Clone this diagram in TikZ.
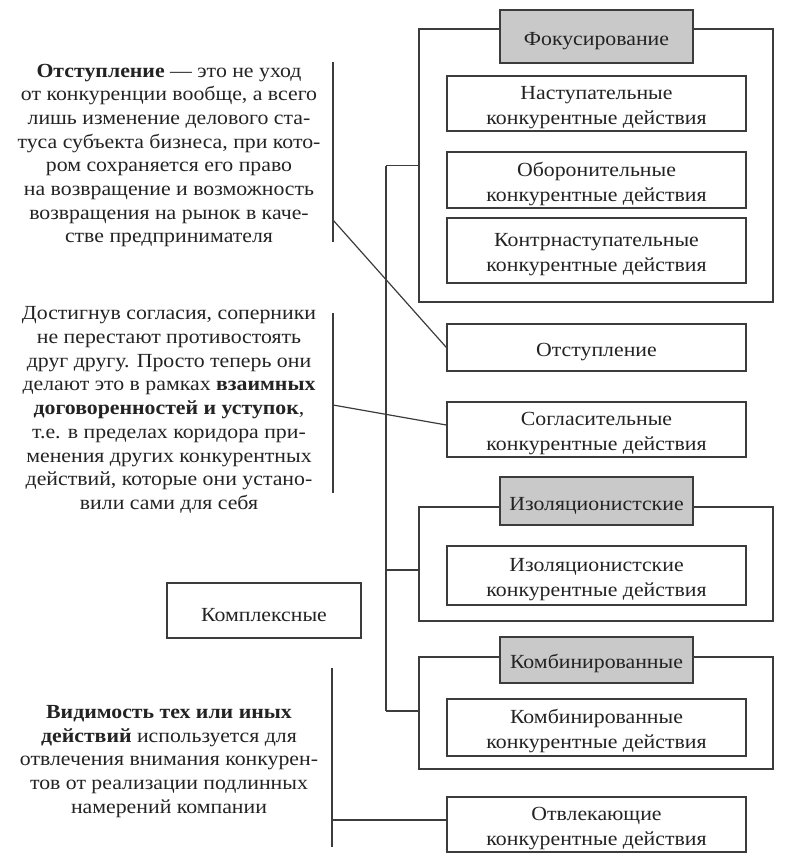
\documentclass[tikz,border=0pt]{standalone}
\usepackage{fontspec}
\setmainfont{Liberation Serif}[FakeStretch=1.09]
\usetikzlibrary{calc}
\definecolor{lc}{RGB}{60,60,60}
\definecolor{tc}{RGB}{35,35,35}
\definecolor{hd}{RGB}{201,201,201}
\newcommand{\fsz}{\fontsize{20}{23.7}\selectfont}
\newcommand{\bsz}{\fontsize{20}{25}\selectfont}
\newcommand{\dn}{\rule{0pt}{22pt}}
\begin{document}
\begin{tikzpicture}[x=1pt,y=-1pt,
  ln/.style={draw=lc, line width=1.2pt},
  frame/.style={draw=lc, line width=1.2pt, inner sep=0pt, minimum width=354pt},
  inbox/.style={draw=lc, line width=1.2pt, fill=white, inner sep=0pt, align=center,
    font=\bsz, text=tc, minimum width=299pt},
  head/.style={draw=lc, line width=1.2pt, fill=hd, inner sep=0pt, align=center,
    font=\bsz, text=tc, minimum width=193pt},
  note/.style={align=center, font=\fsz, text=tc, inner sep=0pt}
]
\useasboundingbox (0,0) rectangle (788,863);

% frames
\node[frame, minimum height=273pt] (f1) at (596,165.5) {};
\node[frame, minimum height=114pt] (f2) at (596,564) {};
\node[frame, minimum height=112pt] (f3) at (596,713) {};

% headers
\node[head, minimum height=53pt] (h1) at (596.5,36.5) {\dn Фокусирование};
\node[head, minimum height=48pt] (h2) at (596.5,501) {\dn Изоляционистские};
\node[head, minimum height=46pt] (h3) at (596.5,660) {\dn Комбинированные};

% inner boxes
\node[inbox, minimum height=55pt] (nast) at (596.5,103.5) {\dn Наступательные\\конкурентные действия};
\node[inbox, minimum height=56pt] (obor) at (596.5,180) {\dn Оборонительные\\конкурентные действия};
\node[inbox, minimum height=65pt] (kontr) at (596.5,250.5) {\dn Контрнаступательные\\конкурентные действия};
\node[inbox, minimum height=47pt] (otst) at (596.5,347.5) {\dn Отступление};
\node[inbox, minimum height=55pt] (sogl) at (596.5,429.5) {\dn Согласительные\\конкурентные действия};
\node[inbox, minimum height=59pt] (izol) at (596.5,575.5) {\dn Изоляционистские\\конкурентные действия};
\node[inbox, minimum height=57pt] (komb) at (596.5,727.5) {\dn Комбинированные\\конкурентные действия};
\node[inbox, minimum height=55pt] (otvl) at (596.5,824.5) {\dn Отвлекающие\\конкурентные действия};
\node[inbox, minimum width=194pt, minimum height=55pt] (kompl) at (264,610.5) {\dn Комплексные};

% notes
\node[note] (n1) at (169,155.5) {\textbf{Отступление} — это не уход\\
от конкуренции вообще, а всего\\
лишь изменение делового ста-\\
туса субъекта бизнеса, при кото-\\
ром сохраняется его право\\
на возвращение и возможность\\
возвращения на рынок в каче-\\
стве предпринимателя};
\node[note] (n2) at (169,410) {Достигнув согласия, соперники\\
не перестают противостоять\\
друг другу. Просто теперь они\\
делают это в рамках \textbf{взаимных}\\
\textbf{договоренностей и уступок},\\
т.е. в пределах коридора при-\\
менения других конкурентных\\
действий, которые они устано-\\
вили сами для себя};
\node[note] (n3) at (169,761.5) {\textbf{Видимость тех или иных}\\
\textbf{действий} используется для\\
отвлечения внимания конкурен-\\
тов от реализации подлинных\\
намерений компании};

% brackets
\coordinate (b1t) at (333,62);
\coordinate (b1b) at (333,242);
\coordinate (b1c) at (333,220);
\coordinate (b2t) at (333,313);
\coordinate (b2b) at (333,493);
\coordinate (b2c) at (333,405);
\coordinate (b3t) at (332,668);
\coordinate (b3b) at (332,847);
\coordinate (b3c) at (332,820);
\draw[ln] (b1t) -- (b1b);
\draw[ln] (b2t) -- (b2b);
\draw[ln] (b3t) -- (b3b);
\draw[ln] (b1c) -- (otst.west);
\draw[ln] (b2c) -- ($(sogl.west)+(0,-4.5)$);
\draw[ln] (b3c) -- (otvl.west |- b3c);

% trunk
\coordinate (tt) at (386,165.5);
\coordinate (tm) at (386,570);
\coordinate (tb) at (386,711);
\draw[ln] (tt) -- (tb);
\draw[ln] (tt) -- (f1.west |- tt);
\draw[ln] (tm) -- (f2.west |- tm);
\draw[ln] (tb) -- (f3.west |- tb);
\end{tikzpicture}
\end{document}
